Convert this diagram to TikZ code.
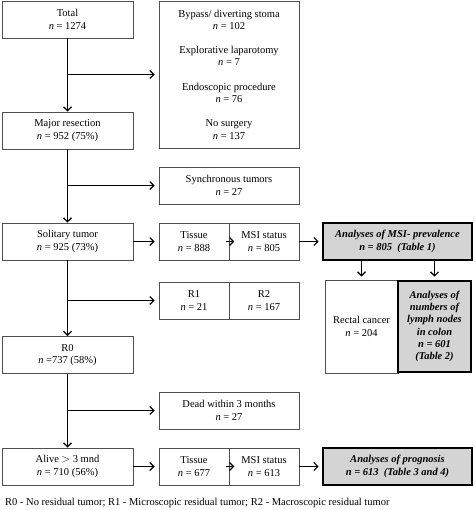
\documentclass[tikz,border=0pt]{standalone}
\usepackage{fontspec}
\setmainfont{Liberation Serif}
\usepackage{tikz}
\usetikzlibrary{arrows.meta, positioning, calc}
\definecolor{boxline}{RGB}{80,80,80}
\definecolor{resultgray}{RGB}{212,212,212}

\begin{document}
\begin{tikzpicture}[x=1pt, y=-1pt,
        box/.style={draw=boxline, line width=0.8pt, minimum width=131pt, minimum height=37pt,
            inner sep=0pt, align=center, font=\fontsize{10.5}{12.3}\selectfont},
        half/.style={box, minimum width=70pt},
        result/.style={box, draw=black, line width=2.6pt, fill=resultgray,
            minimum width=149pt, font=\fontsize{10.5}{12.3}\selectfont\bfseries\itshape},
        arr/.style={line width=1.2pt, -{Straight Barb[length=4pt, width=8pt]}}]
        \useasboundingbox (0,0) rectangle (474,510);

        % Left column
        \node[box] (total)    at (67.5, 19.5)  {Total\\\textit{n} = 1274};
        \node[box] (major)    at (67.5, 130.5) {Major resection\\\textit{n} = 952 (75\%)};
        \node[box] (solitary) at (67.5, 241.5) {Solitary tumor\\\textit{n} = 925 (73\%)};
        \node[box] (rzero)    at (67.5, 355)   {R0\\\textit{n} =737 (58\%)};
        \node[box] (alive)    at (67.5, 466.5) {Alive $>$ 3 mnd\\\textit{n} = 710 (56\%)};

        % Excluded
        \node[box, minimum width=140pt, minimum height=147pt] (nosurg) at (229, 74.5)
            {Bypass/ diverting stoma\\\textit{n} = 102\\[12pt]
             Explorative laparotomy\\\textit{n} = 7\\[12pt]
             Endoscopic procedure\\\textit{n} = 76\\[12pt]
             No surgery\\\textit{n} = 137};
        \node[box, minimum width=140pt] (sync) at (229, 185.5) {Synchronous tumors\\\textit{n} = 27};
        \node[half] (rone) at (194, 300.5) {R1\\\textit{n} = 21};
        \node[half] (rtwo) at (264, 300.5) {R2\\\textit{n} = 167};
        \node[box, minimum width=140pt] (dead) at (229, 410.5) {Dead within 3 months\\\textit{n} = 27};

        % Tissue / MSI rows
        \node[half] (tissueA) at (194, 241.5) {Tissue\\\textit{n} = 888};
        \node[half] (msiA)    at (264, 241.5) {MSI status\\\textit{n} = 805};
        \node[half] (tissueB) at (194, 466.5) {Tissue\\\textit{n} = 677};
        \node[half] (msiB)    at (264, 466.5) {MSI status\\\textit{n} = 613};

        % Analyses
        \node[result] (prevalence) at (397.5, 241.5)
            {Analyses of MSI- prevalence\\\textit{n} = 805~ (Table 1)};
        \node[box, minimum width=73pt, minimum height=93pt] (rectal) at (361.5, 326.5)
            {Rectal cancer\\\textit{n} = 204};
        \node[result, minimum width=73pt, minimum height=91pt] (lymph) at (434.5, 326.5)
            {Analyses of\\numbers of\\lymph nodes\\in colon\\\textit{n} = 601\\(Table 2)};
        \node[result] (prognosis) at (397.5, 466.5)
            {Analyses of prognosis\\\textit{n} = 613~ (Table 3 and 4)};

        % Main flow
        \draw[arr] (total) -- (major);
        \draw[arr] (major) -- (solitary);
        \draw[arr] (solitary) -- (rzero);
        \draw[arr] (rzero) -- (alive);

        % Branches
        \draw[arr, shorten >=4pt] (total.south |- nosurg) -- (nosurg.west);
        \draw[arr, shorten >=4pt] (major.south |- sync) -- (sync.west);
        \draw[arr, shorten >=4pt] (solitary.south |- rone) -- (rone.west);
        \draw[arr, shorten >=4pt] (rzero.south |- dead) -- (dead.west);

        % Rows to the right
        \draw[arr, shorten >=4pt] (solitary) -- (tissueA);
        \draw[arr] ([xshift=-3pt]tissueA.east) -- ([xshift=5pt]tissueA.east);
        \draw[arr, shorten >=3pt] (msiA) -- (prevalence);
        \draw[arr, shorten >=4pt] (alive) -- (tissueB);
        \draw[arr] ([xshift=-3pt]tissueB.east) -- ([xshift=5pt]tissueB.east);
        \draw[arr, shorten >=3pt] (msiB) -- (prognosis);

        % Split of prevalence
        \draw[arr, shorten >=3pt] (prevalence.south -| rectal.north) -- (rectal.north);
        \draw[arr, shorten >=3pt] (prevalence.south -| lymph.north) -- (lymph.north);

        % Footnote
        \node[anchor=west, inner sep=0pt, font=\fontsize{10.5}{12.3}\selectfont] (note) at (5, 503)
            {R0 - No residual tumor; R1 - Microscopic residual tumor; R2 - Macroscopic residual tumor};
    \end{tikzpicture}
\end{document}
